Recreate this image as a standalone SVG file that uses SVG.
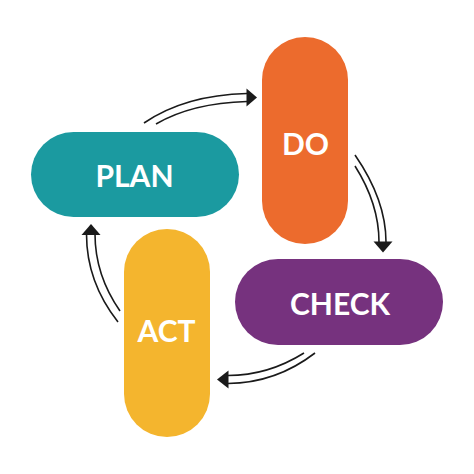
<svg xmlns="http://www.w3.org/2000/svg" width="474" height="474" viewBox="0 0 474 474">
  <style>
    .lbl { font-family: "Lato", "Open Sans", "Liberation Sans", sans-serif; font-weight: 700; font-size: 30px; fill: #ffffff; text-anchor: middle; }
    .ln { fill: none; stroke: #1a1a1a; stroke-width: 1.6; }
    .hd { fill: #1a1a1a; }
  </style>
  <rect width="474" height="474" fill="#ffffff"/>
  <g id="connectors">
    <g id="plan-to-do">
      <path class="ln" d="M144,123 Q185,95 247,93.5"/>
      <path class="ln" d="M156,124 Q192,103 247,101.5"/>
      <polygon class="hd" points="257,97.5 246.5,88.5 246.5,106.5"/>
    </g>
    <g id="do-to-check">
      <path class="ln" d="M355,155 Q386,200 386,242"/>
      <path class="ln" d="M355,166 Q379,204 379,242"/>
      <polygon class="hd" points="383,252.5 373.5,241.5 392.5,241.5"/>
    </g>
    <g id="check-to-act">
      <path class="ln" d="M315,353 Q276,383 228,383.5"/>
      <path class="ln" d="M304,353 Q268,375.5 228,375.5"/>
      <polygon class="hd" points="217,379.5 228.5,370.5 228.5,388.5"/>
    </g>
    <g id="act-to-plan">
      <path class="ln" d="M118,322 Q86.5,282 86.5,234"/>
      <path class="ln" d="M120,311 Q95,275 95,234"/>
      <polygon class="hd" points="91,224 81.5,235 100.5,235"/>
    </g>
  </g>
  <g id="plan">
    <rect x="31" y="132" width="208" height="85" rx="42.5" fill="#1b9aa0"/>
    <text class="lbl" x="134.5" y="187">PLAN</text>
  </g>
  <g id="do">
    <rect x="262" y="37" width="86" height="207" rx="43" fill="#ec6b2d"/>
    <text class="lbl" x="305.5" y="155">DO</text>
  </g>
  <g id="check">
    <rect x="235" y="259" width="208" height="86" rx="43" fill="#76327e"/>
    <text class="lbl" x="340" y="315">CHECK</text>
  </g>
  <g id="act">
    <rect x="124" y="229" width="86" height="208" rx="43" fill="#f4b52e"/>
    <text class="lbl" x="166.5" y="342">ACT</text>
  </g>
</svg>
